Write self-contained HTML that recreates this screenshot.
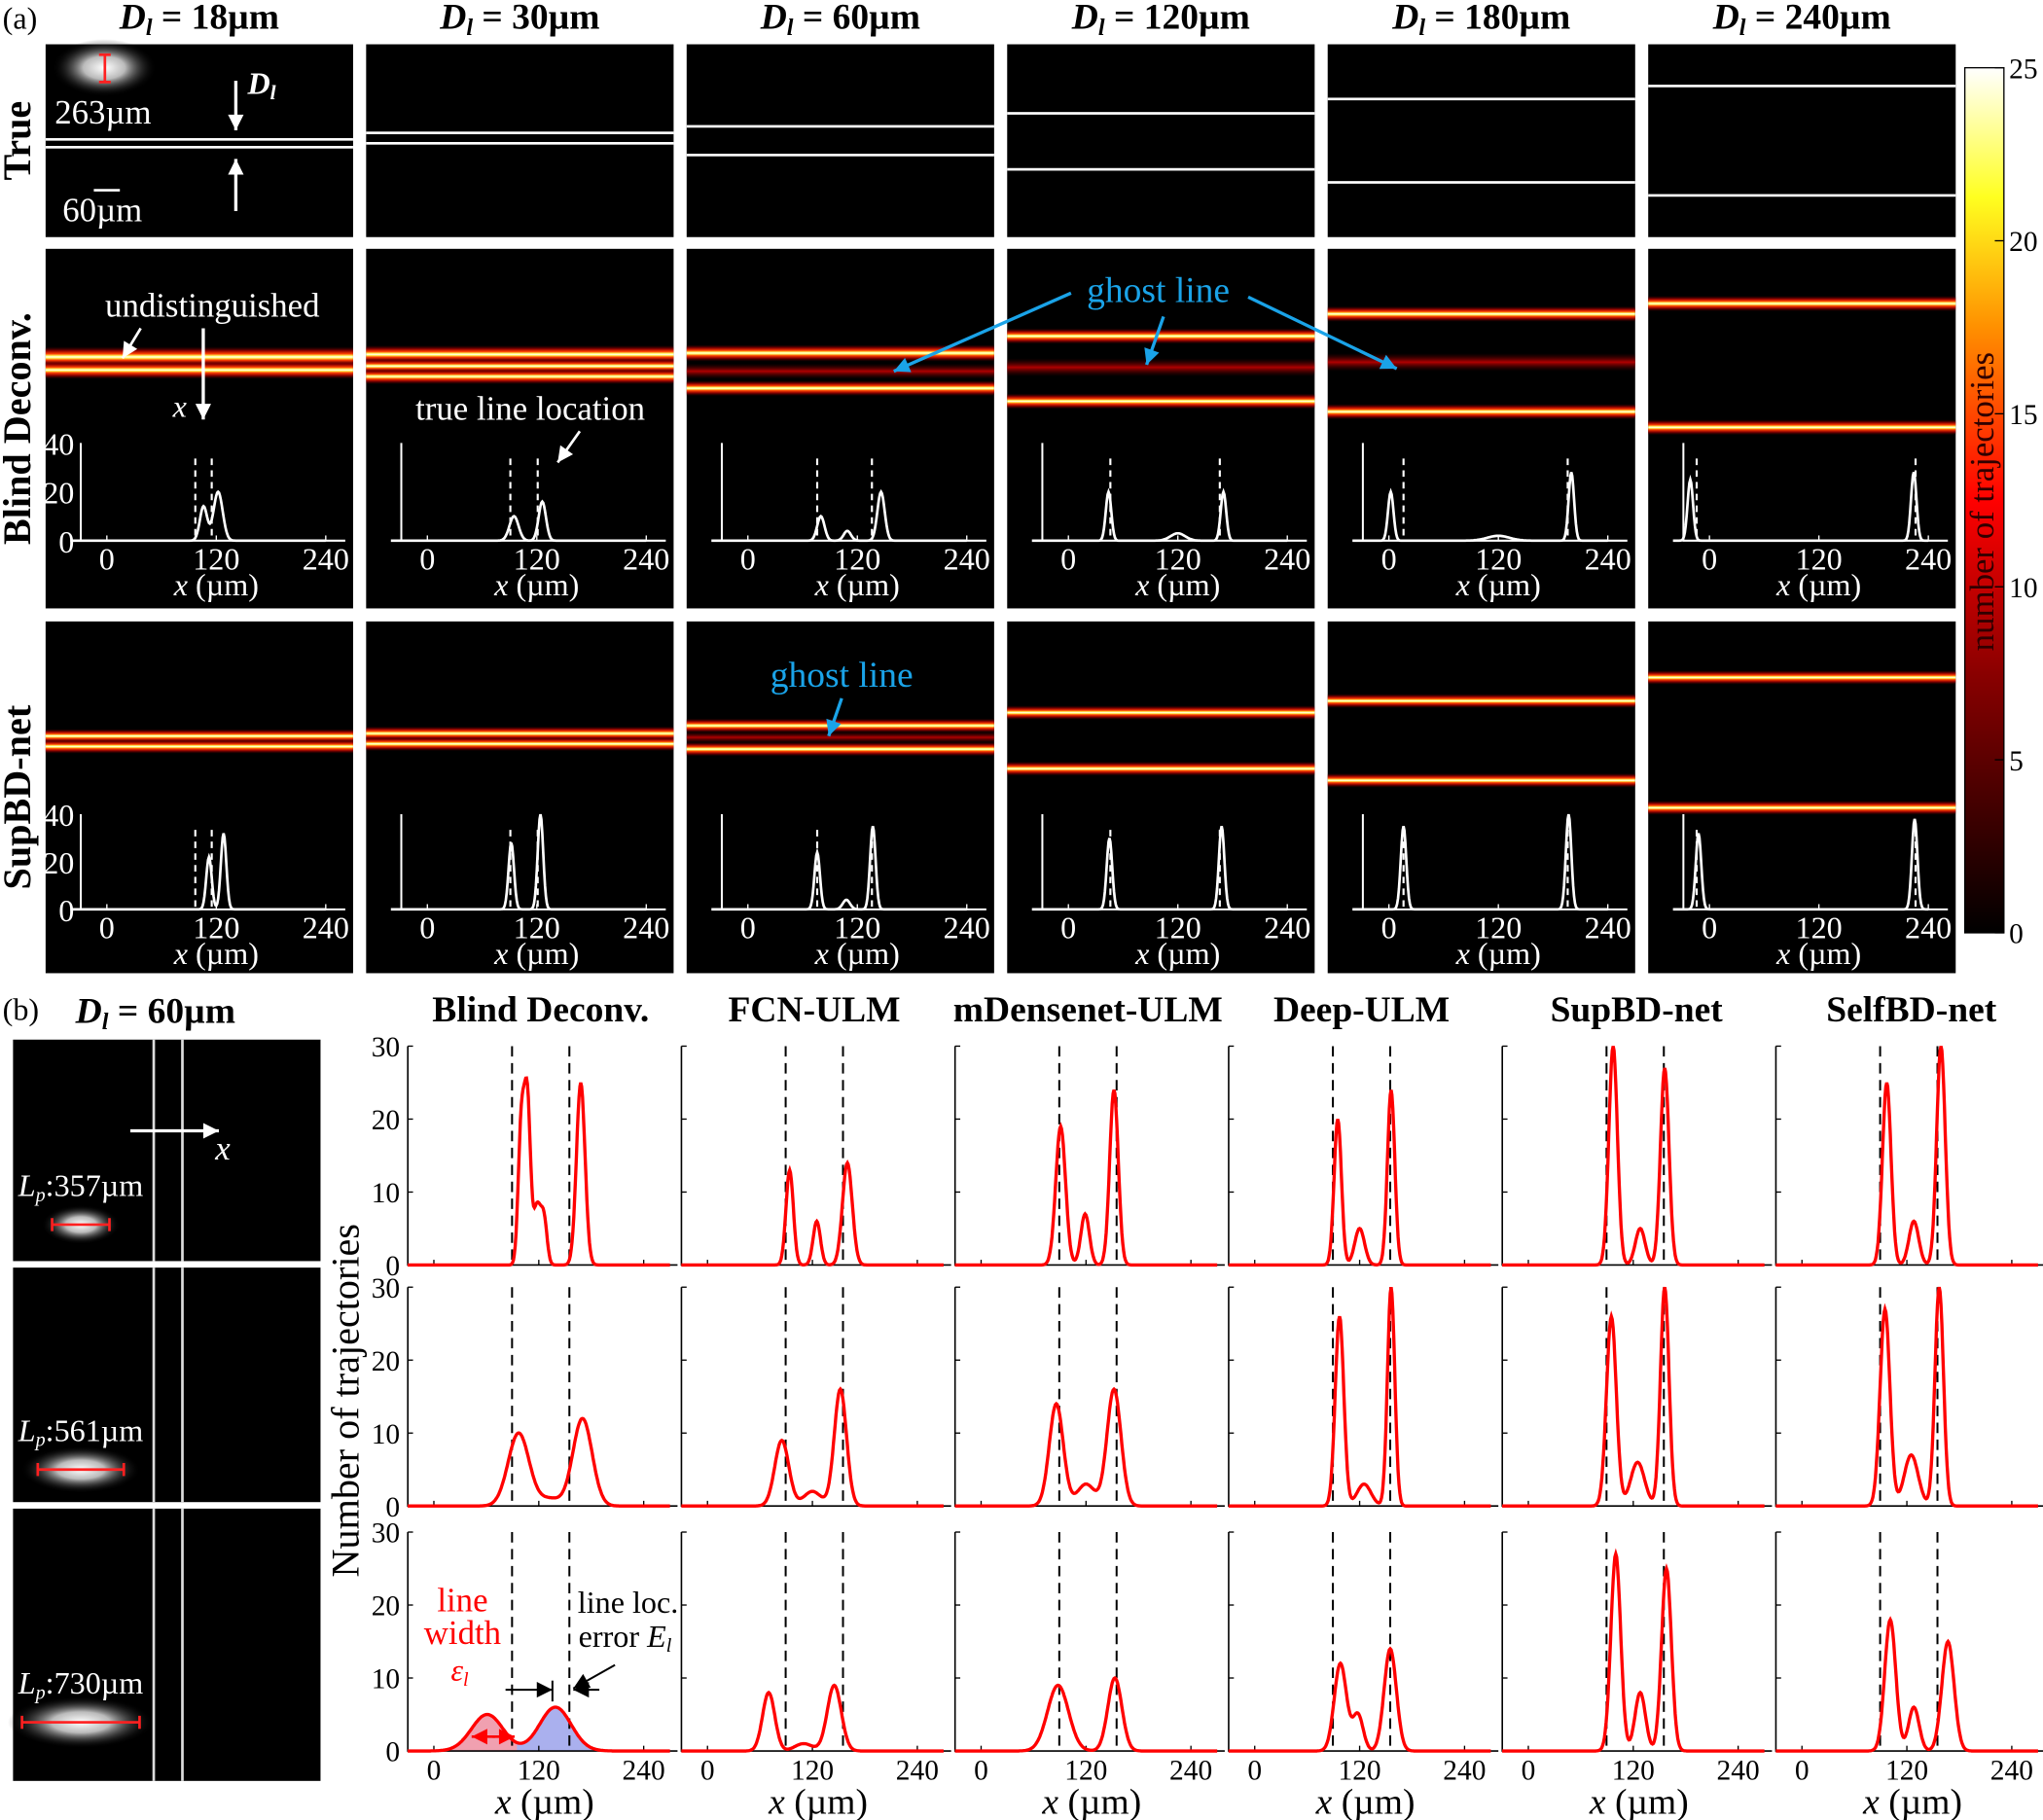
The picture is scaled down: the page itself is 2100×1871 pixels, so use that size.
<!DOCTYPE html>
<html><head><meta charset="utf-8">
<style>html,body{margin:0;padding:0;background:#fff;}svg{display:block;}
text{font-family:"Liberation Serif",serif;}</style></head>
<body>
<svg id="s" xmlns="http://www.w3.org/2000/svg" width="2100" height="1871" viewBox="0 0 1568 1397" preserveAspectRatio="none">
<defs>
<linearGradient id="band" x1="0" y1="0" x2="0" y2="1">
<stop offset="0" stop-color="#300000" stop-opacity="0"/>
<stop offset="0.2" stop-color="#8b0000"/>
<stop offset="0.35" stop-color="#ff4000"/>
<stop offset="0.45" stop-color="#ffff60"/>
<stop offset="0.5" stop-color="#ffffff"/>
<stop offset="0.55" stop-color="#ffff60"/>
<stop offset="0.65" stop-color="#ff4000"/>
<stop offset="0.8" stop-color="#8b0000"/>
<stop offset="1" stop-color="#300000" stop-opacity="0"/>
</linearGradient>
<linearGradient id="ghost" x1="0" y1="0" x2="0" y2="1">
<stop offset="0" stop-color="#400000" stop-opacity="0"/>
<stop offset="0.5" stop-color="#b00000"/>
<stop offset="1" stop-color="#400000" stop-opacity="0"/>
</linearGradient>
<linearGradient id="cbar" x1="0" y1="1" x2="0" y2="0">
<stop offset="0" stop-color="#000"/>
<stop offset="0.3" stop-color="#8a0000"/>
<stop offset="0.5" stop-color="#ff0000"/>
<stop offset="0.7" stop-color="#ff9000"/>
<stop offset="0.85" stop-color="#ffff20"/>
<stop offset="1" stop-color="#ffffff"/>
</linearGradient>
<radialGradient id="blob"><stop offset="0" stop-color="#fff"/><stop offset="0.4" stop-color="#bbb"/><stop offset="1" stop-color="#000" stop-opacity="0"/></radialGradient>
</defs>
</svg>
<script>
const S=document.getElementById('s'),NS='http://www.w3.org/2000/svg';
function el(t,a,txt,p){const e=document.createElementNS(NS,t);for(const k in a)e.setAttribute(k,a[k]);if(txt!=null)e.textContent=txt;(p||S).appendChild(e);return e;}
function tx(x,y,s,size,opt){opt=opt||{};return el('text',Object.assign({x:x,y:y,'font-size':size,fill:'#000','text-anchor':'middle'},opt),s);}
function g(x,pk){let v=0;for(const p of pk)v+=p[1]*Math.exp(-(x-p[0])*(x-p[0])/(2*p[2]*p[2]));return v;}
function curve(pk,X,Y,x0,x1){let d='';for(let x=x0;x<=x1;x+=1){d+=(d?'L':'M')+X(x).toFixed(1)+','+Y(g(x,pk)).toFixed(1);}return d;}
function arrow(x1,y1,x2,y2,c,w){el('line',{x1:x1,y1:y1,x2:x2,y2:y2,stroke:c,'stroke-width':w||2.5});const a=Math.atan2(y2-y1,x2-x1),L=12,W=6;
 const p=[[x2,y2],[x2-L*Math.cos(a)+W*Math.sin(a),y2-L*Math.sin(a)-W*Math.cos(a)],[x2-L*Math.cos(a)-W*Math.sin(a),y2-L*Math.sin(a)+W*Math.cos(a)]];
 el('polygon',{points:p.map(q=>q.join(',')).join(' '),fill:c});}
// ===== (a)
tx(2,22,'(a)',24,{'text-anchor':'start'});
const Ds=[18,30,60,120,180,240],cx=[35,281,527,773,1019,1265],PW=236;
Ds.forEach((D,i)=>{const t=el('text',{x:cx[i]+118,y:22,'font-size':28,'font-weight':'bold','text-anchor':'middle'});
 el('tspan',{'font-style':'italic'},'D',t);el('tspan',{'font-style':'italic','font-size':18,dy:5},'l',t);el('tspan',{dy:-5},' = '+D+'µm',t);});
[['True',108],['Blind Deconv.',329],['SupBD-net',612]].forEach(r=>tx(0,0,r[0],30,{'font-weight':'bold',transform:`translate(23,${r[1]}) rotate(-90)`}));
const trueL=[[107,113],[102,110],[97,119],[87,130],[76,140],[66,150]];
const blindB=[[[274,16,0],[284,14,0]],[[272,14,0],[281,12,0],[289,12,0]],[[271,13,0],[285,12,1],[298,12,0]],[[258,12,0],[282,14,1],[308,12,0]],[[241,12,0],[278,14,1],[316,12,0]],[[233,12,0],[328,12,0]]];
const supB=[[[565,11,0],[573,11,0]],[[563,11,0],[571,11,0]],[[557,11,0],[566,9,1],[575,11,0]],[[547,11,0],[590,11,0]],[[538,11,0],[599,11,0]],[[520,11,0],[620,11,0]]];
const blindPk=[[[106,14,4],[122,20,5]],[[95,10,5],[126,16,4]],[[80,10,4],[109,4,4],[146,20,4]],[[44,20,3],[120,3,8],[170,20,3]],[[2,20,3],[120,2,12],[200,28,3]],[[-21,25,3],[224,28,3]]];
const supPk=[[[112,22,3],[128,32,3]],[[92,28,3],[124,40,3]],[[76,24,3],[108,4,4],[137,35,3]],[[45,30,3],[168,35,3]],[[16,35,3],[197,40,3]],[[-12,32,3],[225,38,3]]];
function inset(px,py,top,base,pk,D,i){
 const X=u=>px+47+u*0.7,Y=v=>base-v*(base-top)/40,ax=px+27;
 el('path',{d:`M${ax},${top}L${ax},${base}L${px+230},${base}`,stroke:'#fff','stroke-width':1.5,fill:'none'});
 [0,120,240].forEach(u=>{el('line',{x1:X(u),y1:base,x2:X(u),y2:base-4,stroke:'#fff'});tx(X(u),base+22,String(u),24,{fill:'#fff'});});
 const c=106;[c-D/2,c+D/2].forEach(u=>el('line',{x1:X(u),y1:top+12,x2:X(u),y2:base,stroke:'#fff','stroke-width':1.6,'stroke-dasharray':'5,4'}));
 el('path',{d:curve(pk,X,Y,-40,240),stroke:'#fff','stroke-width':2,fill:'none'});
 const t=el('text',{x:px+131,y:base+42,'font-size':24,fill:'#fff','text-anchor':'middle'});el('tspan',{'font-style':'italic'},'x',t);el('tspan',{},' (µm)',t);
 if(i==0){[[40,top],[20,(top+base)/2],[0,base]].forEach(q=>tx(px+22,q[1]+9,String(q[0]),24,{fill:'#fff','text-anchor':'end'}));}
}
cx.forEach((x,i)=>{
 el('rect',{x:x,y:34,width:PW,height:148,fill:'#000'});
 trueL[i].forEach(y=>el('rect',{x:x,y:y-1,width:PW,height:2,fill:'#fff'}));
 el('rect',{x:x,y:191,width:PW,height:276,fill:'#000'});
 el('rect',{x:x,y:477,width:PW,height:270,fill:'#000'});
 [blindB,supB].forEach(B=>B[i].forEach(b=>{const h=b[1];el('rect',{x:x,y:b[0]-h/2,width:PW,height:h,fill:b[2]?'url(#ghost)':'url(#band)'});}));
 inset(x,191,340,415,blindPk[i],Ds[i],i);
 inset(x,477,625,698,supPk[i],Ds[i],i);
});
el('ellipse',{cx:80,cy:52,rx:40,ry:22,fill:'url(#blob)'});
el('path',{d:'M76,42H85M80.5,42V63M76,63H85',stroke:'#ff2020','stroke-width':2,fill:'none'});
tx(42,95,'263µm',26,{fill:'#fff','text-anchor':'start'});
tx(48,170,'60µm',26,{fill:'#fff','text-anchor':'start'});
el('line',{x1:72,y1:146,x2:92,y2:146,stroke:'#fff','stroke-width':2});
arrow(181,62,181,100,'#fff',2.5);arrow(181,162,181,122,'#fff',2.5);
const dl=el('text',{x:190,y:72,'font-size':24,fill:'#fff','font-weight':'bold','font-style':'italic'});el('tspan',{},'D',dl);el('tspan',{'font-size':16,dy:4},'l',dl);
tx(163,243,'undistinguished',26,{fill:'#fff'});arrow(108,252,94,275,'#fff',2);arrow(156,252,156,322,'#fff',2.5);
tx(138,320,'x',24,{fill:'#fff','font-style':'italic'});
tx(407,322,'true line location',26,{fill:'#fff'});arrow(445,331,428,355,'#fff',2);
const bl='#1aa3e8';tx(889,232,'ghost line',28,{fill:bl});arrow(822,225,686,285,bl,2.5);arrow(893,243,880,280,bl,2.5);arrow(958,228,1072,283,bl,2.5);
tx(646,527,'ghost line',28,{fill:bl});arrow(646,536,636,565,bl,2.5);
el('rect',{x:1508,y:52,width:30,height:664,fill:'url(#cbar)',stroke:'#000','stroke-width':1});
[25,20,15,10,5,0].forEach((v,k)=>{const y=52+k*132.8;el('line',{x1:1531,y1:y,x2:1538,y2:y,stroke:'#000'});tx(1542,y+8,String(v),22,{'text-anchor':'start'});});
tx(0,0,'number of trajectories',26,{fill:'#300000',transform:'translate(1530,385) rotate(-90)'});
// ===== (b)
tx(2,783,'(b)',24,{'text-anchor':'start'});
const bt=el('text',{x:58,y:785,'font-size':28,'font-weight':'bold'});el('tspan',{'font-style':'italic'},'D',bt);el('tspan',{'font-style':'italic','font-size':18,dy:5},'l',bt);el('tspan',{dy:-5},' = 60µm',bt);
const imgs=[[798,968,357,940,30,15,40],[973,1153,561,1128,46,18,60],[1158,1367,730,1322,56,20,82]];
imgs.forEach(m=>{el('rect',{x:10,y:m[0],width:236,height:m[1]-m[0],fill:'#000'});
 el('ellipse',{cx:62,cy:m[3],rx:m[4],ry:m[5],fill:'url(#blob)'});
 [118,140].forEach(x=>el('rect',{x:x-1,y:m[0],width:2,height:m[1]-m[0],fill:'#ddd'}));
 el('path',{d:`M${62-m[6]/2*1.1},${m[3]-5}V${m[3]+5}M${62-m[6]/2*1.1},${m[3]}H${62+m[6]/2*1.1}M${62+m[6]/2*1.1},${m[3]-5}V${m[3]+5}`,stroke:'#ff2020','stroke-width':2,fill:'none'});
 const t=el('text',{x:14,y:m[3]-22,'font-size':24,fill:'#fff'});el('tspan',{'font-style':'italic'},'L',t);el('tspan',{'font-style':'italic','font-size':15,dy:4},'p',t);el('tspan',{dy:-4},':'+m[2]+'µm',t);});
arrow(100,868,168,868,'#fff',2.5);tx(171,890,'x',26,{fill:'#fff','font-style':'italic'});
const titles=['Blind Deconv.','FCN-ULM','mDensenet-ULM','Deep-ULM','SupBD-net','SelfBD-net'],tcx=[415,625,835,1045,1256,1467];
titles.forEach((s,i)=>tx(tcx[i],784,s,28,{'font-weight':'bold'}));
tx(0,0,'Number of trajectories',30,{transform:'translate(275,1075) rotate(-90)'});
const P=[
[[[100,19,2.5],[107,22,2.5],[118,8,3],[126,6,2.5],[168,25,3.5]],[[94,13,3],[125,6,3],[160,14,4]],[[91,19,4],[119,7,3.5],[152,24,3.5]],[[95,20,3],[120,5,4],[156,24,3]],[[97,30,3.5],[128,5,4],[156,27,3.5]],[[97,25,3.5],[128,6,4],[159,30,3.5]]],
[[[97,10,12],[170,12,11],[133,1,12]],[[85,9,8],[120,2,10],[152,16,7]],[[86,14,8],[120,3,10],[152,16,8]],[[97,26,3.5],[125,3,8],[156,30,3]],[[95,26,4],[125,6,8],[156,30,3.5]],[[95,27,4],[125,7,8],[157,30,3.5]]],
[[[61,5,18],[139,6,18]],[[70,8,7],[145,9,8],[110,1,10]],[[88,9,12],[153,10,8]],[[98,12,5],[118,5,6],[155,14,5]],[[100,27,4],[128,8,6],[158,25,4]],[[101,18,4.5],[128,6,6],[167,15,5]]]];
P.forEach(r=>r.forEach(pk=>pk.forEach(p=>{if(p[2]<6)p[2]*=1.4;})));
const bases=[971,1156,1344];
P.forEach((row,r)=>row.forEach((pk,c)=>{
 const x0=313+210*c,base=bases[r],top=base-168,X=u=>x0+20+u*0.671,Y=v=>base-v*5.6;
 if(r==2&&c==0){const d=curve(pk,X,Y,-30,270);el('path',{d:d+`L${X(270)},${base}L${X(-30)},${base}Z`,fill:'#aab0ee'});
  el('path',{d:curve(pk,X,Y,0,95)+`L${X(95)},${base}L${X(0)},${base}Z`,fill:'#f0a0b0'});}
 el('path',{d:`M${x0},${top}L${x0},${base}L${x0+207},${base}`,stroke:'#000','stroke-width':1.2,fill:'none'});
 [0,10,20,30].forEach(v=>{el('line',{x1:x0,y1:Y(v),x2:x0+4,y2:Y(v),stroke:'#000'});if(c==0)tx(x0-6,Y(v)+8,String(v),22,{'text-anchor':'end'});});
 [0,120,240].forEach(u=>{el('line',{x1:X(u),y1:base,x2:X(u),y2:base-4,stroke:'#000'});if(r==2)tx(X(u),base+22,String(u),22);});
 [80,124].forEach(dx=>el('line',{x1:x0+dx,y1:top,x2:x0+dx,y2:base,stroke:'#000','stroke-width':1.5,'stroke-dasharray':'8,5'}));
 el('path',{d:curve(pk,X,Y,-30,270),stroke:'#ff0000','stroke-width':2.5,fill:'none'});
 if(r==2){const t=el('text',{x:x0+105,y:1392,'font-size':28,'text-anchor':'middle'});el('tspan',{'font-style':'italic'},'x',t);el('tspan',{},' (µm)',t);}
}));
tx(355,1237,'line',26,{fill:'#ff0000'});tx(355,1262,'width',26,{fill:'#ff0000'});
const el2=el('text',{x:346,y:1290,'font-size':24,fill:'#ff0000','font-style':'italic'});el('tspan',{},'ε',el2);el('tspan',{'font-size':15,dy:4},'l',el2);
arrow(380,1333,362,1333,'#ff0000',2);arrow(378,1333,395,1333,'#ff0000',2);
tx(482,1238,'line loc.',24);const e2=el('text',{x:444,y:1264,'font-size':24});el('tspan',{},'error ',e2);el('tspan',{'font-style':'italic'},'E',e2);el('tspan',{'font-style':'italic','font-size':15,dy:4},'l',e2);
el('line',{x1:424,y1:1290,x2:424,y2:1306,stroke:'#000','stroke-width':1.5});
arrow(388,1297,424,1297,'#000',1.5);arrow(472,1278,440,1296,'#000',1.5);arrow(460,1297,440,1297,'#000',1.5);
</script>
</body></html>
